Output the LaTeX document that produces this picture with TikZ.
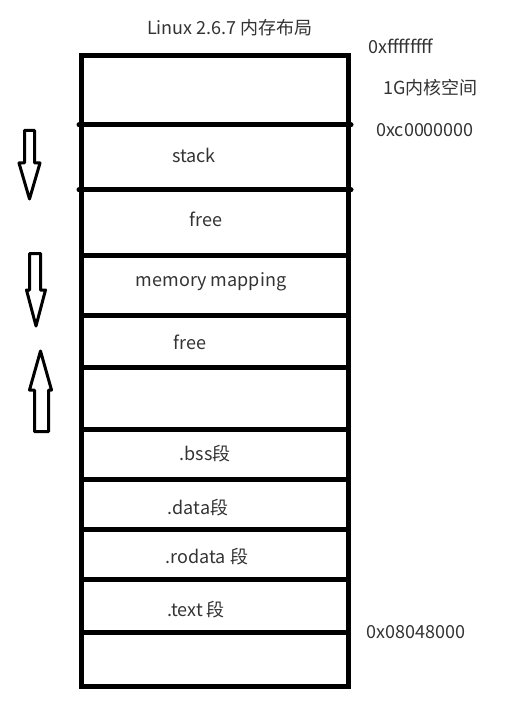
\documentclass[tikz,border=0pt]{standalone}
\usepackage{fontspec}
\setmainfont{Noto Sans CJK SC}
\usepackage{xcolor}

\begin{document}
\begin{tikzpicture}[x=1pt,y=-1pt,
  seg/.style={line width=5pt},
  hollow/.style={line width=3pt, line join=round},
  lbl/.style={text=black!80, font=\fontsize{18}{20}\selectfont, inner sep=0pt}]
\useasboundingbox (0,0) rectangle (512,719);

\node[lbl] (title) at (230,28) {Linux 2.6.7 内存布局};

\draw [seg] (81,56) rectangle (348,686);
\draw [seg, line cap=round] (79,125) -- (351,125);
\draw [seg, line cap=round] (79,190) -- (351,190);
\draw [seg] (81,255) -- (348,255);
\draw [seg] (81,315) -- (348,315);
\draw [seg] (81,367) -- (348,367);
\draw [seg] (81,429) -- (348,429);
\draw [seg] (81,479) -- (348,479);
\draw [seg] (81,529) -- (348,529);
\draw [seg] (81,579) -- (348,579);
\draw [seg] (79,632) -- (348,632);

\node[lbl] (stack) at (194,155) {stack};
\node[lbl] (free1) at (206,219) {free};
\node[lbl] (mmap) at (211,282) {memory mapping};
\node[lbl] (free2) at (190,342) {free};
\node[lbl] (bss) at (205,454) {.bss段};
\node[lbl] (data) at (198,508) {.data段};
\node[lbl] (rodata) at (207,557) {.rodata 段};
\node[lbl] (text) at (196,610) {.text 段};

\node[lbl, anchor=west] (top) at (368,46) {0xffffffff};
\node[lbl, anchor=west] (kern) at (383,88) {1G内核空间};
\node[lbl, anchor=west] (c0) at (376,130) {0xc0000000};
\node[lbl, anchor=west] (base) at (366,632) {0x08048000};

% stack grows down
\draw [hollow] (24.5,130.5) -- (34.5,130.5) -- (34.5,163) -- (40,163) -- (29.5,199) -- (19,163) -- (24.5,163) -- cycle;
% mmap grows down
\draw [hollow] (29.5,253.5) -- (40.5,253.5) -- (40.5,290) -- (45.5,290) -- (36,326) -- (26.5,290) -- (29.5,290) -- cycle;
% heap grows up
\draw [hollow] (40.5,351) -- (51.5,390) -- (48.5,390) -- (48.5,431.5) -- (34.5,431.5) -- (34.5,390) -- (29.5,390) -- cycle;

\end{tikzpicture}
\end{document}
